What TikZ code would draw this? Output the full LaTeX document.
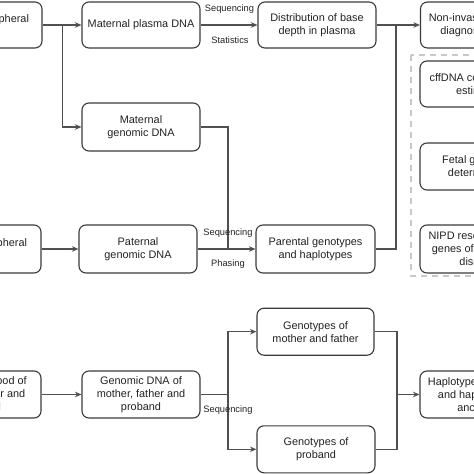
\documentclass[tikz,border=0pt]{standalone}
\usepackage{fontspec}
\setmainfont{Liberation Sans}
\usetikzlibrary{arrows.meta}
\definecolor{boxline}{HTML}{3A3A3A}
\definecolor{conline}{HTML}{505050}
\definecolor{txt}{HTML}{222222}
\definecolor{dashgray}{HTML}{C8C8C8}
\tikzset{
  box/.style={draw=boxline, line width=1.1pt, rounded corners=7pt, align=center,
    minimum width=118pt, minimum height=47pt, inner sep=0pt, text=txt,
    font=\fontsize{10.9}{13}\selectfont},
  rbox/.style={box, minimum width=122pt},
  con/.style={draw=conline, line width=1.1pt},
  arr/.style={con, -{Stealth[length=6.5pt,width=5.5pt]}},
  lbl/.style={text=txt, inner sep=0pt, font=\fontsize{9.3}{11}\selectfont},
}
\begin{document}
\begin{tikzpicture}[x=1pt,y=-1pt]
\useasboundingbox (0,0) rectangle (474,474);
\clip (0,0) rectangle (474,474);
% dashed group box
\draw[dashgray, line width=1.3pt, dash pattern=on 6pt off 5pt] (411,55) rectangle (560,276);
% top row
\node[box, minimum width=120pt, minimum height=46pt] (lt) at (-18,25) {Maternal peripheral\\blood};
\node[box, minimum height=46pt] (plasma) at (141,25) {Maternal plasma DNA};
\node[box, minimum height=46pt] (dist) at (317,25) {Distribution of base\\depth in plasma};
\node[rbox, minimum height=46pt] (noninv) at (481.5,25) {Non-invasive prenatal\\diagnosis (NIPD)};
\node[box, minimum height=48pt] (matgen) at (141,127) {Maternal\\genomic DNA};
% middle row
\node[box, minimum width=120pt, minimum height=48pt] (lp) at (-19,249) {Paternal peripheral\\blood};
\node[box, minimum height=48pt] (patgen) at (138,249) {Paternal\\genomic DNA};
\node[box, minimum width=119pt, minimum height=48pt] (parental) at (315.5,249) {Parental genotypes\\and haplotypes};
% right group
\node[rbox, minimum height=46pt] (cff) at (481,84) {cffDNA concentration\\estimation};
\node[rbox, minimum height=47pt] (fetal) at (481,166.5) {Fetal genotypes\\determination};
\node[rbox, minimum height=48pt] (nipd) at (481,249) {NIPD research on the\\genes of monogenic\\diseases};
% bottom
\node[box, minimum width=120pt] (lb) at (-19,394.5) {Peripheral blood of\\mother, father and\\proband};
\node[box] (gdna) at (141,394.5) {Genomic DNA of\\mother, father and\\proband};
\node[box, minimum width=117pt] (gmf) at (315.5,331.7) {Genotypes of\\mother and father};
\node[box, minimum width=118pt] (gpb) at (316,449.3) {Genotypes of\\proband};
\node[rbox] (hap) at (481,394.5) {Haplotypes of parents\\and haplotypes of\\ancestors};
% junctions
\coordinate (j1) at (228,249);
\coordinate (j2) at (396,25);
\coordinate (j3) at (228,394.5);
\coordinate (j4) at (397,394.5);
% connectors top
\draw[arr] (lt.east) -- (plasma.west);
\draw[arr] (lt.east) -- ++(20,0) |- (matgen.west);
\draw[arr] (plasma.east) -- (dist.west);
\draw[arr] (dist.east) -- (noninv.west);
\draw[con] (matgen.east) -| (j1);
\draw[arr] (lp.east) -- (patgen.west);
\draw[arr] (patgen.east) -- (parental.west);
\draw[con] (parental.east) -| (j2);
% bottom connectors
\draw[arr] (lb.east) -- (gdna.west);
\draw[con] (gdna.east) -- (j3);
\draw[arr] (j3) |- (gmf.west);
\draw[arr] (j3) |- (gpb.west);
\draw[con] (gmf.east) -| (j4);
\draw[con] (gpb.east) -| (j4);
\draw[arr] (j4) -- (hap.west);
% labels
\node[lbl] (l1) at (229.5,9.5) {Sequencing};
\node[lbl] (l2) at (230,40) {Statistics};
\node[lbl] (l3) at (228,233) {Sequencing};
\node[lbl] (l4) at (228,264.5) {Phasing};
\node[lbl] (l5) at (228,410) {Sequencing};
\end{tikzpicture}
\end{document}
